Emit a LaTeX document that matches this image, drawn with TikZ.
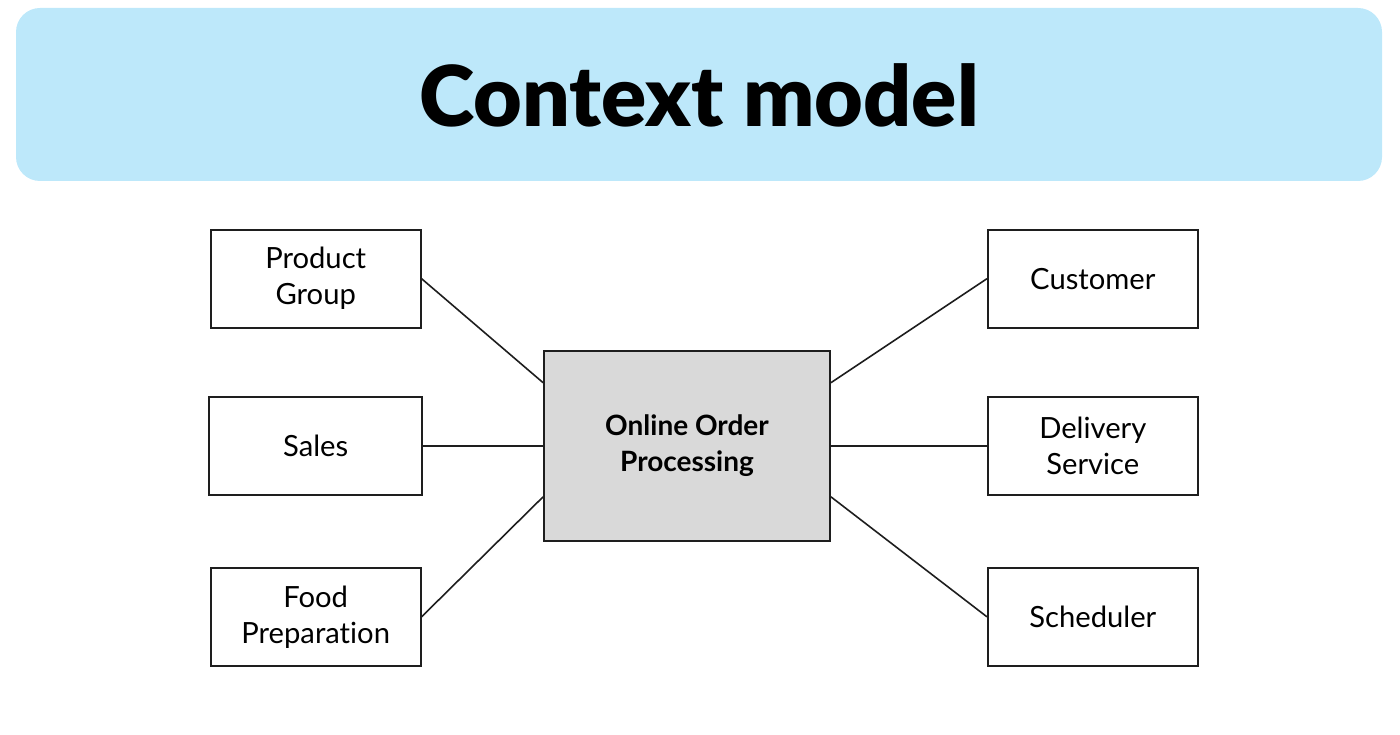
\documentclass[tikz,border=0pt]{standalone}
\usepackage{fontspec}
\setmainfont{Lato}[Ligatures=NoCommon]
\newfontfamily\heavyfont{Lato Black}[Ligatures=NoCommon]
\usetikzlibrary{positioning,calc}
\definecolor{banner}{HTML}{BDE8FA}
\definecolor{core}{HTML}{D9D9D9}
\definecolor{ink}{HTML}{1E1E1E}

\begin{document}
\begin{tikzpicture}[x=0.5pt,y=0.5pt,
  font=\fontsize{14.6}{18}\selectfont,
  ext/.style={draw=ink,line width=0.9pt,minimum width=105pt,minimum height=49pt,
              align=center,inner sep=0pt},
  sys/.style={draw=ink,line width=0.9pt,fill=core,minimum width=143pt,minimum height=95pt,
              align=center,font=\fontsize{14}{18}\selectfont\bfseries},
  link/.style={line width=0.8pt,ink},
]
\useasboundingbox (0,0) rectangle (1400,734);

% title banner
\fill[banner,rounded corners=12pt] (16,553) rectangle (1382,726);
\node[font=\fontsize{42}{50}\heavyfont] (title) at (699,639) {Context model};

% system in the middle
\node[sys] (c) at (687,288) {Online Order\\Processing};

% left column
\node[ext,left=60pt of c,minimum width=106.5pt] (sales) {Sales};
\node[ext,above=33.75pt of sales] (pgroup) {Product\\Group};
\node[ext,below=35.5pt of sales] (food) {Food\\Preparation};

% right column
\node[ext,right=78pt of c] (deliv) {Delivery\\Service};
\node[ext,above=33.75pt of deliv] (cust) {Customer};
\node[ext,below=35.5pt of deliv] (sched) {Scheduler};

% links
\coordinate (cw1) at ($(c.north west)!0.17!(c.south west)$);
\coordinate (cw3) at ($(c.north west)!0.765!(c.south west)$);
\coordinate (ce1) at ($(c.north east)!0.17!(c.south east)$);
\coordinate (ce3) at ($(c.north east)!0.765!(c.south east)$);
\draw[link] (pgroup.east)--(cw1);
\draw[link] (sales.east)--(c.west);
\draw[link] (food.east)--(cw3);
\draw[link] (cust.west)--(ce1);
\draw[link] (deliv.west)--(c.east);
\draw[link] (sched.west)--(ce3);
\end{tikzpicture}
\end{document}
